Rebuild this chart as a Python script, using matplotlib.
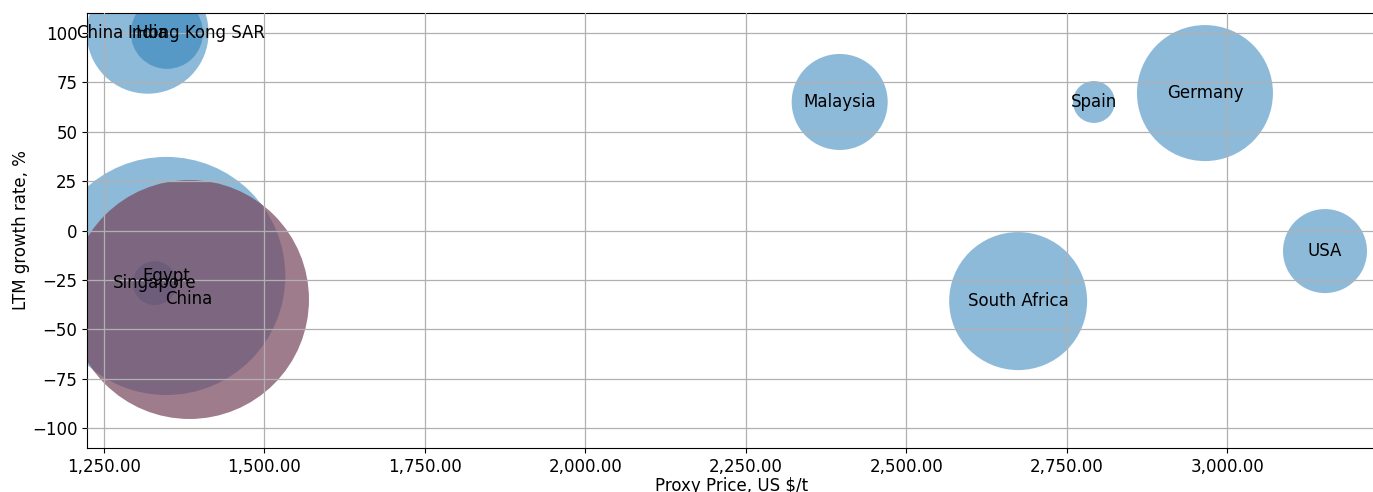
import matplotlib
matplotlib.use("Agg")
import matplotlib.pyplot as plt
from matplotlib.ticker import FuncFormatter

# bubble data: proxy price (US $/t), LTM growth (%), bubble area (pt^2)
countries = ["China", "India", "Hong Kong SAR", "Malaysia", "Spain", "Germany",
             "USA", "South Africa", "Egypt", "Singapore", "China"]
price = [1244, 1318, 1348, 2396, 2792, 2965, 3152, 2674, 1347, 1329, 1382]
growth = [100, 100, 100, 65, 65, 69.5, -10.4, -35.7, -23, -26.6, -34.4]
area = [0, 7700, 2700, 4780, 910, 9590, 3660, 9870, 29400, 1000, 29600]

# label nudges in points where text sits off the bubble centre
label_dx = {2: 24}

fig = plt.figure(figsize=(13.73, 4.92), dpi=100)
ax = fig.add_axes([87 / 1373, 44 / 492, 1290 / 1373, 435 / 492])

base_idx = list(range(len(countries) - 1))
ax.scatter([price[i] for i in base_idx], [growth[i] for i in base_idx],
           s=[area[i] for i in base_idx], color="#1f77b4", alpha=0.5,
           linewidths=0, zorder=1)
# highlighted market drawn last, on top
ax.scatter(price[-1:], growth[-1:], s=area[-1:], color="#77445b", alpha=0.7,
           linewidths=0, zorder=1)

for i, name in enumerate(countries):
    ax.annotate(name, (price[i], growth[i]), xytext=(label_dx.get(i, 0), 0),
                textcoords="offset points", ha="center", va="center",
                fontsize=12, zorder=3)

ax.set_xlim(1223.5, 3233)
ax.set_ylim(-110, 110)
ax.set_yticks([-100, -75, -50, -25, 0, 25, 50, 75, 100])
ax.xaxis.set_major_formatter(FuncFormatter(lambda v, p: f"{v:,.2f}"))
ax.tick_params(labelsize=12)
ax.set_axisbelow(False)
ax.grid(True, color="#b0b0b0", linewidth=0.9, zorder=2)
ax.set_xlabel("Proxy Price, US $/t", fontsize=12, labelpad=1)
ax.set_ylabel("LTM growth rate, %", fontsize=12, labelpad=1)

fig.savefig("out.png", dpi=100)
